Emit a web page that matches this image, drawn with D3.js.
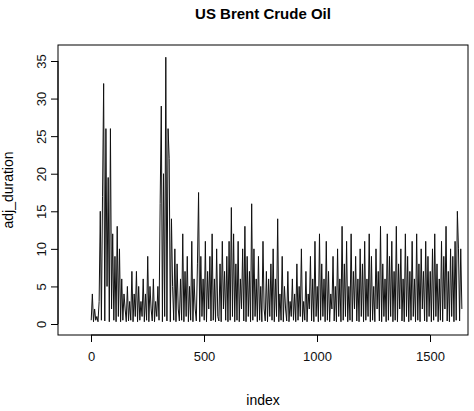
<!DOCTYPE html><html><head><meta charset="utf-8"><script src="https://cdn.jsdelivr.net/npm/d3@7"></script>
<style>body{margin:0;background:#fff}text{font-family:"Liberation Sans",Arial,sans-serif}</style></head><body><svg id="c" width="474" height="411"></svg><script>
const indexStep=5;
const adjDuration=[
0.5,4,0.3,2,0.5,1,0.3,3,15,0.5,17,32,0.4,26,5,19.5,0.3,26,2,12,
0.5,9,0.3,13,1,10,0.3,6,0.5,4,2,0.3,5,0.4,3,0.5,7,0.3,4,1,
7,0.3,5,0.5,3,1,6,0.3,4,0.5,9,0.3,5,2,0.4,6,0.3,3,1,5,
0.5,16,29,0.3,20,1,35.5,0.4,26,22,0.3,14,5,0.5,10,0.3,8,2,0.4,6,
0.5,12,0.3,7,1,9,0.3,5,0.5,11,0.3,6,2,0.4,8,17.5,0.3,9,1,6,
0.5,11,0.3,7,2,9,0.4,12,0.5,6,0.3,10,1,0.4,8,0.3,11,2,7,0.5,
9,0.3,11,0.5,15.5,1,12,0.3,8,0.5,11,0.3,6,2,10,0.4,13,0.3,9,1,
7,0.3,16,0.5,10,1,6,0.3,9,0.5,5,0.3,11,2,0.4,7,0.3,6,1,8,
0.5,10,0.3,6,1,14,0.3,4,0.5,9,0.3,5,2,0.4,7,0.3,3,1,6,0.5,
4,0.3,8,0.5,5,1,10,0.3,3,0.5,7,0.3,4,2,9,0.4,6,0.3,11,1,
5,0.3,12,0.5,8,1,6,0.3,11,0.5,7,0.3,4,2,9,0.4,5,0.3,10,1,
6,0.3,13,0.5,8,1,11,0.3,5,0.5,12,0.3,7,2,9,0.4,6,0.3,10,1,
8,0.3,11,0.5,6,1,12,0.3,9,0.5,5,0.3,10,2,7,0.4,13,0.3,8,1,
6,0.3,12,0.5,9,1,11,0.3,7,0.5,13,0.3,8,2,10,0.4,6,0.3,12,1,
9,0.3,7,0.5,11,1,6,0.3,12,0.5,8,0.3,10,2,7,0.4,11,0.3,9,1,
7,0.3,10,0.5,12,1,8,0.3,6,0.5,11,0.3,9,2,13,0.4,7,0.3,10,1,
9,0.3,11,0.5,15,10,0.4,10,2];
const xTicks=[0,500,1000,1500];
const yTicks=[0,5,10,15,20,25,30,35];
const svg=d3.select("#c");
const L=58,R=468,T=45,B=335;
const x=d3.scaleLinear().domain([0,1000]).range([91,317]);
const y=d3.scaleLinear().domain([0,35]).range([324,61]);
svg.append("rect").attr("x",L).attr("y",T).attr("width",R-L).attr("height",B-T).attr("fill","none").attr("stroke","#000");
svg.append("path").datum(adjDuration).attr("fill","none").attr("stroke","#111").attr("stroke-width",1)
 .attr("d",d3.line().x((d,i)=>x(1+i*indexStep)).y(d=>y(d)));
const xa=svg.append("g").attr("transform",`translate(0,${B})`).call(d3.axisBottom(x).tickValues(xTicks).tickSize(7).tickPadding(10).tickFormat(d3.format("d")));
xa.select(".domain").attr("d",`M${x(0)},0H${x(1500)}`);
const ya=svg.append("g").attr("transform",`translate(${L},0)`).call(d3.axisLeft(y).tickValues(yTicks).tickSize(7).tickFormat(d3.format("d")));
ya.select(".domain").attr("d",`M0,${y(0)}V${y(35)}`);
[xa,ya].forEach(a=>a.selectAll("text").attr("font-size",13).attr("fill","#111").attr("font-family","Liberation Sans,Arial"));
ya.selectAll(".tick text").attr("text-anchor","middle").attr("transform",function(){const t=d3.select(this.parentNode).attr("transform");return "translate(-17,0) rotate(-90)";}).attr("x",0).attr("dy","0.35em");
svg.append("text").attr("x",263).attr("y",19).attr("text-anchor","middle").attr("font-weight","bold").attr("font-size",15).text("US Brent Crude Oil");
svg.append("text").attr("x",263).attr("y",405).attr("text-anchor","middle").attr("font-size",14).text("index");
svg.append("text").attr("transform","translate(13,190) rotate(-90)").attr("text-anchor","middle").attr("font-size",14).text("adj_duration");
</script></body></html>
